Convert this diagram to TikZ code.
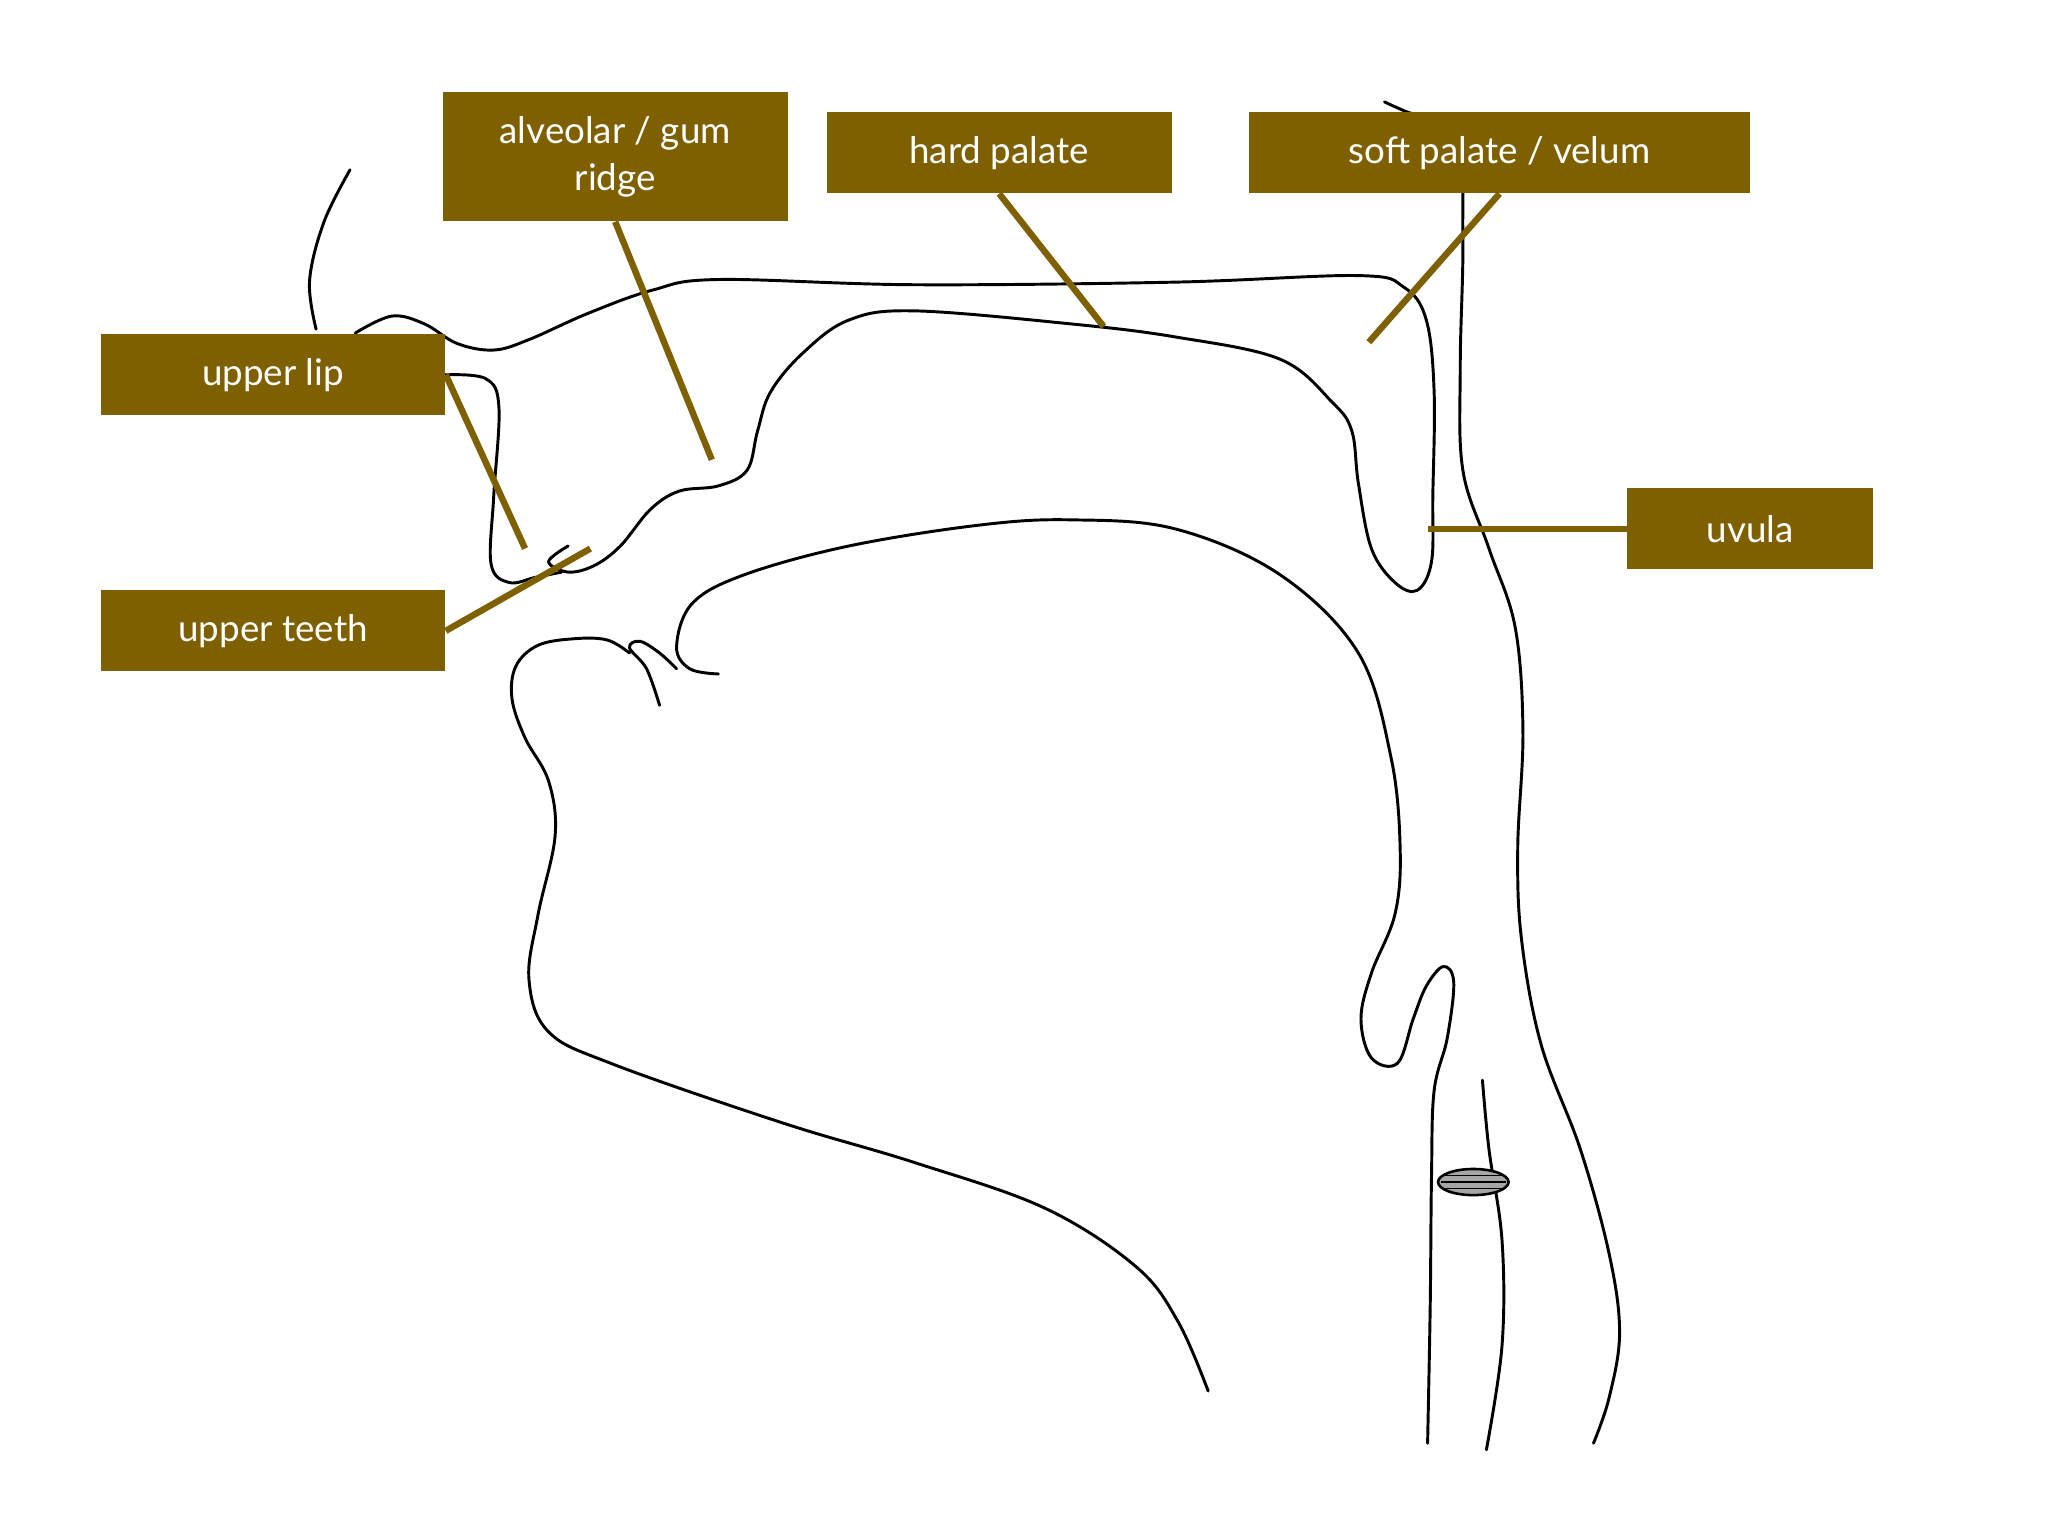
\documentclass[tikz,border=0pt]{standalone}
\usepackage{fontspec}
\setmainfont{Lato}
\definecolor{olive}{HTML}{7F6000}
\begin{document}
\begin{tikzpicture}[x=0.025cm,y=-0.025cm,
  lbl/.style={fill=olive,text=white,align=center,font=\fontsize{20}{26}\selectfont,inner sep=0pt},
  lead/.style={draw=olive,line width=3.5pt},
  outl/.style={black,line width=1.6pt,line join=round,line cap=round}]
\useasboundingbox (0,0) rectangle (1568,1176);
\fill[white] (0,0) rectangle (1568,1176);
% anatomy
\draw[outl] plot[smooth,tension=0.6] coordinates{(268,130)(248,170)(237,215)(242,252)};
\draw[outl] plot[smooth,tension=0.6] coordinates{(272,255)(300,242)(325,248)(350,263)(378,268)(405,260)(450,240)(500,222)(550,214)(700,218)(900,216)(1040,211)(1075,220)(1092,245)(1098,300)(1097,380)(1096,430)(1085,452)(1068,446)(1050,420)(1040,370)(1035,330)(1020,308)(980,275)(900,258)(820,248)(700,238)(650,245)(615,270)(590,300)(580,330)(572,360)(550,372)(520,376)(498,390)(475,418)(455,433)(435,438)(420,430)(435,418)};
\draw[outl] plot[smooth,tension=0.6] coordinates{(341,287)(372,290)(382,312)(378,380)(376,432)(390,446)(410,442)(430,438)};
\draw[outl] plot[smooth,tension=0.6] coordinates{(550,516)(528,512)(518,495)(530,462)(570,440)(650,418)(750,402)(820,398)(900,405)(980,440)(1040,500)(1065,580)(1072,650)(1068,700)(1050,745)(1042,780)(1050,810)(1070,814)(1082,780)(1092,755)(1105,740)(1113,752)(1108,795)(1098,835)(1096,900)(1095,1000)(1093,1105)};
\draw[outl] plot[smooth,tension=0.6] coordinates{(505,540)(495,512)(482,496)(490,491)(505,500)(518,512)};
\draw[outl] plot[smooth,tension=0.6] coordinates{(482,500)(465,490)(440,489)(412,494)(395,510)(392,535)(402,565)(420,598)(425,640)(412,700)(405,750)(420,790)(470,815)(600,860)(700,890)(800,925)(870,970)(902,1012)(925,1065)};
\draw[outl] plot[smooth,tension=0.6] coordinates{(1060,78)(1078,86)(1115,100)(1120,180)(1118,280)(1120,360)(1140,420)(1160,480)(1166,560)(1162,650)(1165,720)(1180,800)(1210,880)(1232,960)(1240,1020)(1232,1070)(1220,1105)};
\draw[outl] plot[smooth,tension=0.6] coordinates{(1135,827)(1140,880)(1150,950)(1150,1030)(1138,1110)};
\draw[black,line width=1.4pt,fill=gray!70] (1128,905) ellipse (27 and 10);
\draw[black,line width=0.8pt] (1103,905)--(1153,905) (1106,900)--(1150,900) (1106,910)--(1150,910);
% labels
\node[lbl,minimum width=264*0.025cm,minimum height=99*0.025cm] (alv) at (471,120) {alveolar / gum\\ridge};
\node[lbl,minimum width=264*0.025cm,minimum height=62*0.025cm] (hard) at (765,117) {hard palate};
\node[lbl,minimum width=383*0.025cm,minimum height=62*0.025cm] (soft) at (1148,117) {soft palate / velum};
\node[lbl,minimum width=264*0.025cm,minimum height=62*0.025cm] (lip) at (209,287) {upper lip};
\node[lbl,minimum width=264*0.025cm,minimum height=62*0.025cm] (teeth) at (209,483) {upper teeth};
\node[lbl,minimum width=188*0.025cm,minimum height=62*0.025cm] (uvula) at (1340,405) {uvula};
\coordinate (alvE) at (545,352);
\coordinate (hardE) at (845,250);
\coordinate (softE) at (1048,262);
\coordinate (lipE) at (402,420);
\coordinate (teethE) at (452,420);
\coordinate (uvE) at (1093,405);
\draw[lead] (alv.south) -- (alvE);
\draw[lead] (hard.south) -- (hardE);
\draw[lead] (soft.south) -- (softE);
\draw[lead] (lip.east) -- (lipE);
\draw[lead] (teeth.east) -- (teethE);
\draw[lead] (uvula.west) -- (uvE);
\end{tikzpicture}
\end{document}
